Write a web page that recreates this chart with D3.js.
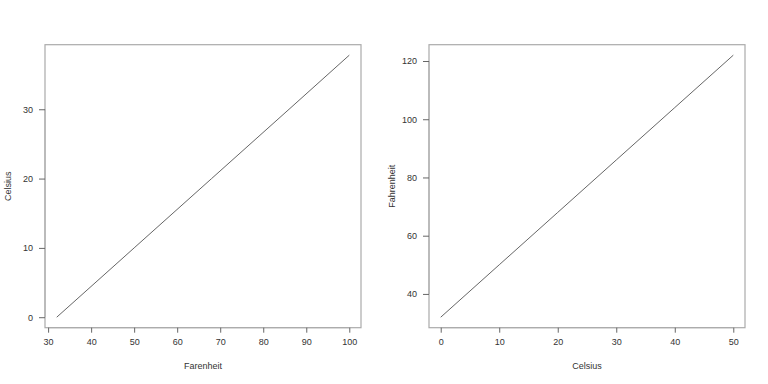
<!DOCTYPE html>
<html>
<head>
<meta charset="utf-8">
<script src="https://cdn.jsdelivr.net/npm/d3@7"></script>
<style>
  body { margin: 0; background: #fff; }
  svg text { font-family: "Liberation Sans", Arial, sans-serif; font-size: 9px; fill: #333; }
</style>
</head>
<body>
<script>
// left panel: Farenheit -> Celsius
const leftFahrenheit = [32, 50, 68, 86, 100];
const leftCelsius = [0, 10, 20, 30, 37.8];
const leftXTicks = [30, 40, 50, 60, 70, 80, 90, 100];
const leftYTicks = [0, 10, 20, 30];

// right panel: Celsius -> Fahrenheit
const rightCelsius = [0, 10, 20, 30, 40, 50];
const rightFahrenheit = [32, 50, 68, 86, 104, 122];
const rightXTicks = [0, 10, 20, 30, 40, 50];
const rightYTicks = [40, 60, 80, 100, 120];

const width = 768, height = 384;

const svg = d3.select("body")
    .append("svg")
    .attr("width", width)
    .attr("height", height);

// R style 4% padding on both ends
function padded(vals) {
    const [lo, hi] = d3.extent(vals);
    const p = (hi - lo) * 0.04;
    return [lo - p, hi + p];
}

function panel(box, xs, ys, xTicks, yTicks, xTitle, yTitle) {
    const x = d3.scaleLinear().domain(padded(xs)).range([box.left, box.right]);
    const y = d3.scaleLinear().domain(padded(ys)).range([box.bottom, box.top]);
    const g = svg.append("g");

    g.append("rect")
        .attr("x", box.left)
        .attr("y", box.top)
        .attr("width", box.right - box.left)
        .attr("height", box.bottom - box.top)
        .attr("fill", "none")
        .attr("stroke", "#aaa")
        .attr("stroke-width", 1.2);

    const xAxis = g.append("g")
        .attr("transform", `translate(0,${box.bottom})`)
        .call(d3.axisBottom(x).tickValues(xTicks).tickSize(5).tickPadding(6).tickFormat(d3.format("d")));
    xAxis.select(".domain")
        .attr("d", `M${x(xTicks[0])},0H${x(xTicks[xTicks.length - 1])}`)
        .attr("stroke", "#aaa");

    const yAxis = g.append("g")
        .attr("transform", `translate(${box.left},0)`)
        .call(d3.axisLeft(y).tickValues(yTicks).tickSize(6).tickPadding(6).tickFormat(d3.format("d")));
    yAxis.select(".domain")
        .attr("d", `M0,${y(yTicks[0])}V${y(yTicks[yTicks.length - 1])}`)
        .attr("stroke", "#aaa");

    g.selectAll(".tick line").attr("stroke", "#666");
    g.selectAll(".tick text").attr("fill", "#333").style("font-size", "9px");
    g.selectAll(".domain").attr("stroke", "#aaa");
    xAxis.selectAll(".tick text").attr("dy", "0.71em");

    g.append("path")
        .datum(xs.map((v, i) => [v, ys[i]]))
        .attr("fill", "none")
        .attr("stroke", "#666")
        .attr("stroke-width", 1)
        .attr("d", d3.line().x(d => x(d[0])).y(d => y(d[1])));

    g.append("text")
        .attr("x", (box.left + box.right) / 2)
        .attr("y", 369)
        .attr("text-anchor", "middle")
        .text(xTitle);

    g.append("text")
        .attr("transform", `translate(${box.left - 34},${(box.top + box.bottom) / 2}) rotate(-90)`)
        .attr("text-anchor", "middle")
        .text(yTitle);
}

panel({left: 45, right: 361, top: 44.7, bottom: 327.7},
    leftFahrenheit, leftCelsius, leftXTicks, leftYTicks, "Farenheit", "Celsius");
panel({left: 429, right: 745, top: 44.7, bottom: 327.7},
    rightCelsius, rightFahrenheit, rightXTicks, rightYTicks, "Celsius", "Fahrenheit");
</script>
</body>
</html>
